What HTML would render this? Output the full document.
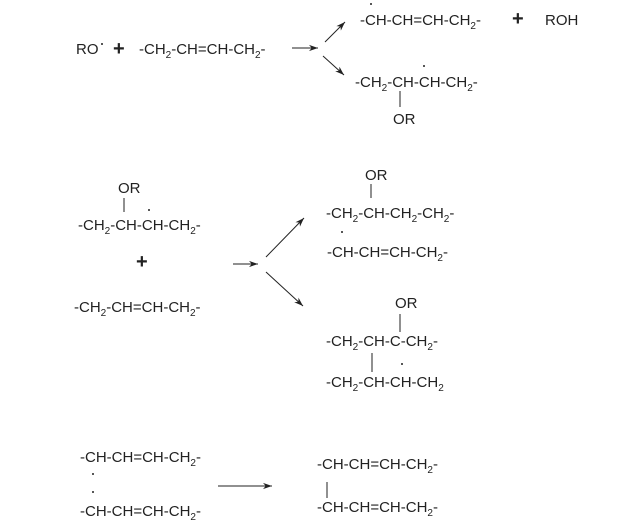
<!DOCTYPE html>
<html><head><meta charset="utf-8"><style>
html,body{margin:0;padding:0;background:#fff;}
svg{display:block;font-family:"Liberation Sans",Arial,sans-serif;font-size:15px;fill:#222;}
.s{font-size:10px;}
line{stroke:#222;stroke-width:1;}
</style></head><body>
<svg width="644" height="528" viewBox="0 0 644 528" xmlns="http://www.w3.org/2000/svg">
<defs><marker id="a" viewBox="0 0 10 10" refX="10" refY="5" markerWidth="9" markerHeight="9" markerUnits="userSpaceOnUse" orient="auto"><path d="M0,1.5 L10,5 L0,8.5 L3,5 z" fill="#222"/></marker></defs>

<!-- Section 1 -->
<text x="76" y="54">RO</text><circle cx="102" cy="44" r="1" fill="#222"/>
<text x="113" y="55" style="font-size:20px;font-weight:bold">+</text>
<text x="139" y="54">-CH<tspan class="s" dy="4">2</tspan><tspan dy="-4">-CH=CH-CH</tspan><tspan class="s" dy="4">2</tspan><tspan dy="-4">-</tspan></text>
<line x1="292" y1="48" x2="318" y2="48" marker-end="url(#a)"/>
<line x1="325" y1="42" x2="345" y2="22" marker-end="url(#a)"/>
<line x1="323" y1="56" x2="344" y2="75" marker-end="url(#a)"/>
<text x="360" y="25">-CH-CH=CH-CH<tspan class="s" dy="4">2</tspan><tspan dy="-4">-</tspan></text>
<circle cx="371" cy="4" r="1" fill="#222"/>
<text x="512" y="25" style="font-size:20px;font-weight:bold">+</text>
<text x="545" y="25">ROH</text>
<text x="355" y="87">-CH<tspan class="s" dy="4">2</tspan><tspan dy="-4">-CH-CH-CH</tspan><tspan class="s" dy="4">2</tspan><tspan dy="-4">-</tspan></text>
<circle cx="424" cy="66" r="1" fill="#222"/>
<line x1="400" y1="91" x2="400" y2="107"/>
<text x="393" y="124">OR</text>

<!-- Section 2 -->
<text x="118" y="193">OR</text>
<line x1="124" y1="198" x2="124" y2="212"/>
<circle cx="149" cy="210" r="1" fill="#222"/>
<text x="78" y="230">-CH<tspan class="s" dy="4">2</tspan><tspan dy="-4">-CH-CH-CH</tspan><tspan class="s" dy="4">2</tspan><tspan dy="-4">-</tspan></text>
<text x="136" y="268" style="font-size:20px;font-weight:bold">+</text>
<text x="74" y="312">-CH<tspan class="s" dy="4">2</tspan><tspan dy="-4">-CH=CH-CH</tspan><tspan class="s" dy="4">2</tspan><tspan dy="-4">-</tspan></text>
<line x1="233" y1="264" x2="258" y2="264" marker-end="url(#a)"/>
<line x1="266" y1="257" x2="304" y2="218" marker-end="url(#a)"/>
<line x1="266" y1="272" x2="303" y2="306" marker-end="url(#a)"/>

<text x="365" y="180">OR</text>
<line x1="371" y1="184" x2="371" y2="198"/>
<text x="326" y="218">-CH<tspan class="s" dy="4">2</tspan><tspan dy="-4">-CH-CH</tspan><tspan class="s" dy="4">2</tspan><tspan dy="-4">-CH</tspan><tspan class="s" dy="4">2</tspan><tspan dy="-4">-</tspan></text>
<circle cx="342" cy="232" r="1" fill="#222"/>
<text x="327" y="257">-CH-CH=CH-CH<tspan class="s" dy="4">2</tspan><tspan dy="-4">-</tspan></text>

<text x="395" y="308">OR</text>
<line x1="400" y1="314" x2="400" y2="332"/>
<text x="326" y="346">-CH<tspan class="s" dy="4">2</tspan><tspan dy="-4">-CH-C-CH</tspan><tspan class="s" dy="4">2</tspan><tspan dy="-4">-</tspan></text>
<line x1="372" y1="353" x2="372" y2="372"/>
<circle cx="402" cy="364" r="1" fill="#222"/>
<text x="326" y="387">-CH<tspan class="s" dy="4">2</tspan><tspan dy="-4">-CH-CH-CH</tspan><tspan class="s" dy="4">2</tspan></text>

<!-- Section 3 -->
<text x="80" y="462">-CH-CH=CH-CH<tspan class="s" dy="4">2</tspan><tspan dy="-4">-</tspan></text>
<circle cx="93" cy="474" r="1" fill="#222"/>
<circle cx="93" cy="492" r="1" fill="#222"/>
<text x="80" y="516">-CH-CH=CH-CH<tspan class="s" dy="4">2</tspan><tspan dy="-4">-</tspan></text>
<line x1="218" y1="486" x2="272" y2="486" marker-end="url(#a)"/>
<text x="317" y="469">-CH-CH=CH-CH<tspan class="s" dy="4">2</tspan><tspan dy="-4">-</tspan></text>
<line x1="327" y1="482" x2="327" y2="498"/>
<text x="317" y="512">-CH-CH=CH-CH<tspan class="s" dy="4">2</tspan><tspan dy="-4">-</tspan></text>
</svg>
</body></html>
